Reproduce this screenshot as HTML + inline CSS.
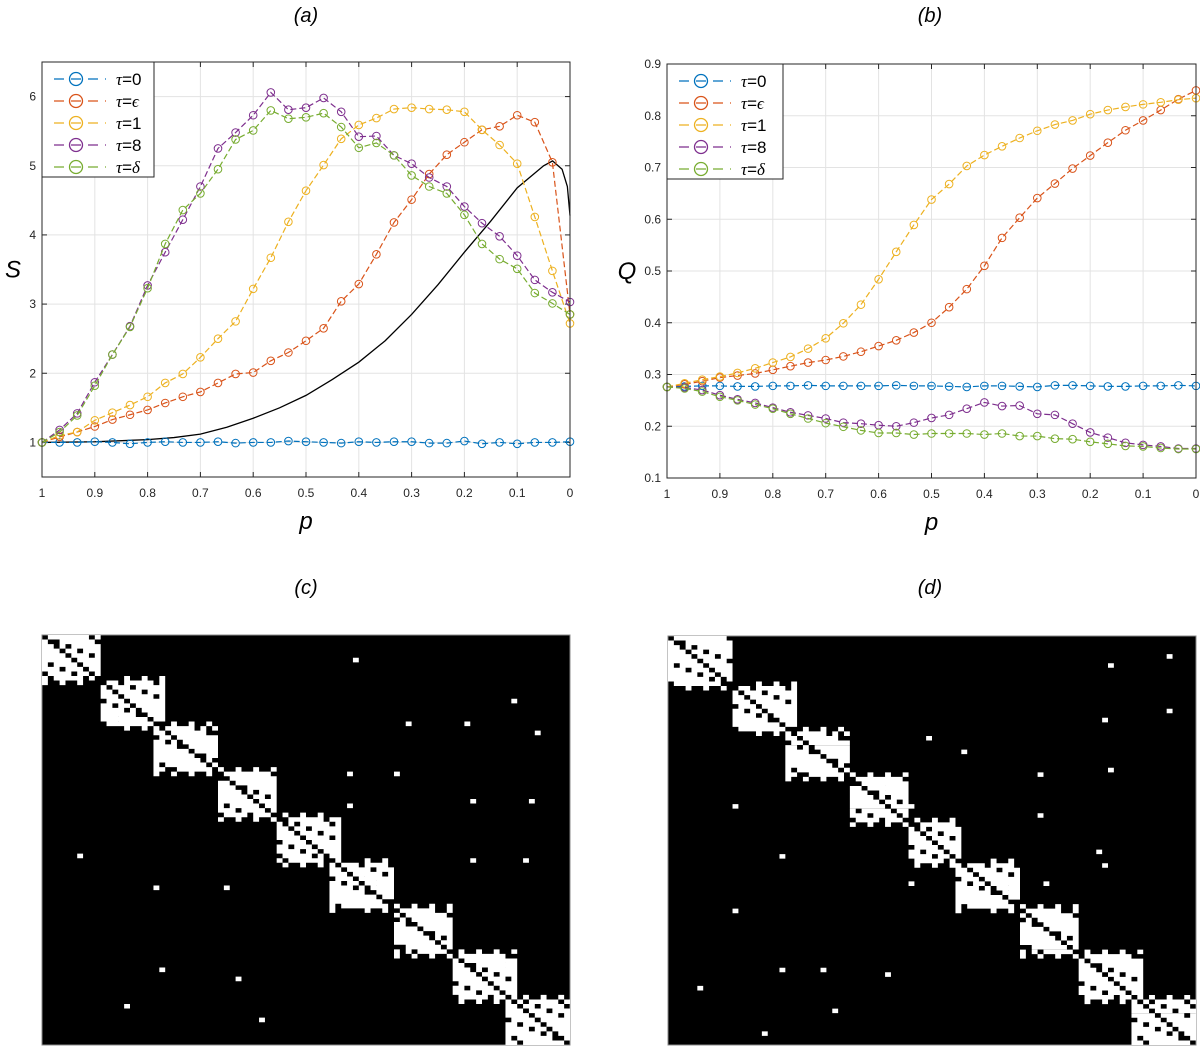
<!DOCTYPE html>
<html><head><meta charset="utf-8"><style>
body{margin:0;background:#fff;}
svg{display:block;font-family:"Liberation Sans",sans-serif;}
.tick{font-size:12px;fill:#262626;}
.ttl{font-size:20px;font-style:italic;fill:#000;}
</style></head><body>
<svg id="fig" width="1200" height="1053" viewBox="0 0 1200 1053"></svg>
<script>
const pVals=[];for(let i=0;i<=30;i++)pVals.push(1-i/30);
// panel (a) S values
const S_tau0=[1.00,1.00,1.00,1.01,1.00,0.98,1.00,1.01,1.00,1.00,1.01,0.99,1.00,1.00,1.02,1.01,1.00,0.99,1.01,1.00,1.01,1.01,0.99,0.99,1.02,0.98,1.00,0.98,1.00,1.00,1.01];
const S_tauEps=[1.0,1.08,1.15,1.23,1.33,1.40,1.47,1.57,1.66,1.73,1.86,1.99,2.01,2.18,2.30,2.47,2.65,3.04,3.29,3.72,4.18,4.51,4.88,5.16,5.34,5.52,5.57,5.73,5.63,5.05,2.85];
const S_tau1=[1.0,1.10,1.15,1.32,1.43,1.54,1.66,1.86,1.99,2.23,2.50,2.75,3.22,3.67,4.19,4.64,5.01,5.39,5.59,5.69,5.82,5.84,5.82,5.81,5.78,5.52,5.30,5.03,4.26,3.48,2.72];
const S_tau8=[1.0,1.18,1.42,1.87,2.27,2.68,3.27,3.75,4.22,4.70,5.25,5.48,5.73,6.06,5.81,5.84,5.98,5.78,5.42,5.43,5.15,5.03,4.83,4.70,4.41,4.17,3.98,3.70,3.35,3.17,3.03];
const S_tauDelta=[1.0,1.15,1.39,1.82,2.27,2.67,3.23,3.87,4.36,4.60,4.95,5.38,5.51,5.80,5.68,5.70,5.76,5.56,5.26,5.33,5.15,4.86,4.70,4.60,4.29,3.87,3.65,3.51,3.16,3.01,2.85];
const blackP=[1,0.9,0.8,0.75,0.7,0.65,0.6,0.55,0.5,0.45,0.4,0.35,0.3,0.25,0.2,0.15,0.1,0.05,0.033,0.015,0.005,0];
const blackS=[1.0,1.01,1.04,1.07,1.12,1.22,1.35,1.50,1.68,1.91,2.16,2.47,2.85,3.28,3.75,4.20,4.68,5.00,5.07,4.95,4.70,4.28];
// panel (b) Q values
const Q_tau0=[0.276,0.277,0.278,0.278,0.277,0.277,0.278,0.278,0.279,0.278,0.278,0.278,0.278,0.279,0.278,0.278,0.277,0.276,0.278,0.278,0.277,0.276,0.279,0.279,0.278,0.277,0.277,0.278,0.278,0.279,0.278];
const Q_tauEps=[0.276,0.281,0.287,0.294,0.298,0.302,0.309,0.316,0.323,0.328,0.335,0.344,0.355,0.366,0.381,0.400,0.430,0.465,0.510,0.564,0.603,0.641,0.669,0.698,0.723,0.748,0.772,0.791,0.811,0.832,0.849];
const Q_tau1=[0.276,0.283,0.290,0.296,0.303,0.312,0.323,0.334,0.350,0.370,0.399,0.435,0.484,0.537,0.589,0.638,0.668,0.703,0.724,0.741,0.757,0.771,0.783,0.791,0.803,0.811,0.817,0.822,0.826,0.831,0.834];
const Q_tau8=[0.276,0.275,0.270,0.260,0.252,0.245,0.236,0.227,0.221,0.215,0.207,0.205,0.202,0.200,0.207,0.216,0.222,0.234,0.246,0.239,0.240,0.224,0.222,0.205,0.188,0.178,0.168,0.164,0.161,0.157,0.157];
const Q_tauDelta=[0.276,0.273,0.267,0.257,0.250,0.242,0.234,0.224,0.215,0.206,0.199,0.192,0.187,0.187,0.184,0.186,0.186,0.186,0.184,0.186,0.181,0.181,0.176,0.175,0.170,0.166,0.162,0.161,0.158,0.156,0.156];
const xTicks=[1,0.9,0.8,0.7,0.6,0.5,0.4,0.3,0.2,0.1,0];
const xTickLabels=["1","0.9","0.8","0.7","0.6","0.5","0.4","0.3","0.2","0.1","0"];
const sTicks=[1,2,3,4,5,6];
const qTicks=[0.1,0.2,0.3,0.4,0.5,0.6,0.7,0.8,0.9];
const legendLabels=["0","\u03F5","1","8","\u03B4"];
// adjacency off-block entries [row,col]
const adjC=[[5,53],[19,62],[19,72],[14,80],[21,84],[30,52],[30,60],[37,52],[36,73],[36,83],[48,6],[49,73],[49,82],[55,19],[55,31],[73,20],[75,33],[81,14],[84,37]];
const adjD=[[6,75],[4,85],[18,74],[16,85],[22,44],[25,50],[30,63],[29,75],[37,11],[37,41],[39,63],[47,73],[48,19],[50,74],[54,41],[54,64],[60,11],[73,19],[82,28],[73,26],[74,37],[77,5],[87,16]];
const blocksC=[10,10,10,10,10,10,10,10,10];
const blocksD=[11,10,10,10,9,10,10,10,10];

const NS="http://www.w3.org/2000/svg";
const fig=document.getElementById('fig');
function mk(tag,attrs,parent){const e=document.createElementNS(NS,tag);for(const k in attrs)e.setAttribute(k,attrs[k]);(parent||fig).appendChild(e);return e;}
const colors=["#0072BD","#D95319","#EDB120","#7E2F8E","#77AC30"];

function title(txt,x,y){const t=mk('text',{x:x,y:y,'text-anchor':'middle',class:'ttl'});t.textContent=txt;

}

function chart(cfg){
  const g=mk('g',{});
  
  
  const L=cfg.L,R=cfg.R,T=cfg.T,B=cfg.B;
  const xs=p=>L+(1-p)*(R-L);
  const ys=v=>B-(v-cfg.ymin)/(cfg.ymax-cfg.ymin)*(B-T);
  mk('rect',{x:L,y:T,width:R-L,height:B-T,fill:'#fff'},g);
  xTicks.forEach((p,i)=>{
    if(i>0&&i<xTicks.length-1){const gl=mk('line',{x1:xs(p),x2:xs(p),y1:T,y2:B,stroke:'#e3e3e3','stroke-width':1},g);
    }
    mk('line',{x1:xs(p),x2:xs(p),y1:B,y2:B-5,stroke:'#262626'},g);
    mk('line',{x1:xs(p),x2:xs(p),y1:T,y2:T+5,stroke:'#262626'},g);
    const t=mk('text',{x:xs(p),y:B+20,'text-anchor':'middle',class:'tick'},g);t.textContent=xTickLabels[i];
    
  });
  cfg.yt.forEach(v=>{
    const gl=mk('line',{x1:L,x2:R,y1:ys(v),y2:ys(v),stroke:'#e3e3e3'},g);
    
    mk('line',{x1:L,x2:L+5,y1:ys(v),y2:ys(v),stroke:'#262626'},g);
    mk('line',{x1:R,x2:R-5,y1:ys(v),y2:ys(v),stroke:'#262626'},g);
    const t=mk('text',{x:L-6,y:ys(v)+4,'text-anchor':'end',class:'tick'},g);t.textContent=cfg.yfmt(v);
    
  });
  if(cfg.black){
    const pts=cfg.black[0].map((p,i)=>xs(p)+','+ys(cfg.black[1][i])).join(' ');
    const pl=mk('polyline',{points:pts,fill:'none',stroke:'#000','stroke-width':1.3},g);
    
  }
  cfg.series.forEach((s,si)=>{
    const sg=mk('g',{},g);
    
    
    const pts=s.map((v,i)=>xs(pVals[i])+','+ys(v)).join(' ');
    mk('polyline',{points:pts,fill:'none',stroke:colors[si],'stroke-width':1.2,'stroke-dasharray':'6,3'},sg);
    s.forEach((v,i)=>{const c=mk('circle',{cx:xs(pVals[i]),cy:ys(v),r:3.8,fill:'none',stroke:colors[si],'stroke-width':1},sg);
      });
  });
  mk('rect',{x:L,y:T,width:R-L,height:B-T,fill:'none',stroke:'#262626','stroke-width':1},g);
  const lg=mk('g',{},g);
  
  mk('rect',{x:L,y:T,width:cfg.lw,height:115,fill:'#fff',stroke:'#262626'},lg);
  legendLabels.forEach((lab,i)=>{
    const yy=T+17+i*22;
    const e=mk('g',{},lg);
    
    mk('line',{x1:L+12,x2:L+64,y1:yy,y2:yy,stroke:colors[i],'stroke-width':1.3,'stroke-dasharray':'10,7'},e);
    mk('circle',{cx:L+34,cy:yy,r:6.5,fill:'none',stroke:colors[i],'stroke-width':1.3},e);
    const t=mk('text',{x:L+74,y:yy+6,'font-size':17},e);
    const a=mk('tspan',{'font-family':'Liberation Serif, serif','font-style':'italic'},t);a.textContent='\u03C4';
    const b=mk('tspan',{},t);b.textContent='='+lab;
    if(lab==='\u03F5'||lab==='\u03B4'){b.textContent='=';const c=mk('tspan',{'font-family':'Liberation Serif, serif','font-style':'italic'},t);c.textContent=lab;}
  });
  const yl=mk('text',{x:cfg.ylx,y:(T+B)/2+8,'text-anchor':'middle','font-size':24,'font-style':'italic'},g);yl.textContent=cfg.ylab;
  
  const xl=mk('text',{x:(L+R)/2,y:B+52,'text-anchor':'middle','font-size':24,'font-style':'italic'},g);xl.textContent='p';
  
}

function matrix(name,L,T,W,H,blocks,adj){
  const g=mk('g',{});
  
  const n=blocks.reduce((a,b)=>a+b,0);const cw=W/n,ch=H/n;
  mk('rect',{x:L,y:T,width:W,height:H,fill:'#000',stroke:'#888','stroke-width':1},g);
  const white=new Set();
  const key=(r,c)=>r*1000+c;
  let s=0;
  blocks.forEach((b,bi)=>{
    for(let a=-1;a<=b;a++)for(let c=-1;c<=b;c++){
      const r=s+a,cc=s+c;if(r<0||cc<0||r>=n||cc>=n)continue;
      if(r===cc)continue;
      const edge=(a<0||a>=b||c<0||c>=b);
      if(edge&&((a*3+c*5+bi)%3!==0))continue;
      if(!edge&&Math.abs(a-c)>=b-2&&((a+c+bi)%2===0))continue;
      if(((a*7+c*13+bi*5)%11+11)%11===0)continue;
      white.add(key(r,cc));
    }
    s+=b;
  });
  adj.forEach(([r,c])=>white.add(key(r,c)));
  let d='';
  white.forEach(k=>{const r=Math.floor(k/1000),c=k%1000;
    d+='M'+(L+c*cw).toFixed(2)+' '+(T+r*ch).toFixed(2)+'h'+cw.toFixed(2)+'v'+ch.toFixed(2)+'h'+(-cw).toFixed(2)+'z';});
  mk('path',{d:d,fill:'#fff'},g);
}

title('(a)',306,22);title('(b)',930,22);title('(c)',306,594);title('(d)',930,594);
chart({name:'chart-a-S',L:42,R:570,T:62,B:477,ymin:0.5,ymax:6.5,yt:sTicks,yfmt:v=>String(v),
  series:[S_tau0,S_tauEps,S_tau1,S_tau8,S_tauDelta],black:[blackP,blackS],lw:112,ylab:'S',ylx:13});
chart({name:'chart-b-Q',L:667,R:1196,T:64,B:478,ymin:0.1,ymax:0.9,yt:qTicks,yfmt:v=>v.toFixed(1),
  series:[Q_tau0,Q_tauEps,Q_tau1,Q_tau8,Q_tauDelta],lw:116,ylab:'Q',ylx:627});
matrix('adjacency-matrix-c',42,635,528,410,blocksC,adjC);
matrix('adjacency-matrix-d',668,636,528,409,blocksD,adjD);
</script>
</body></html>
